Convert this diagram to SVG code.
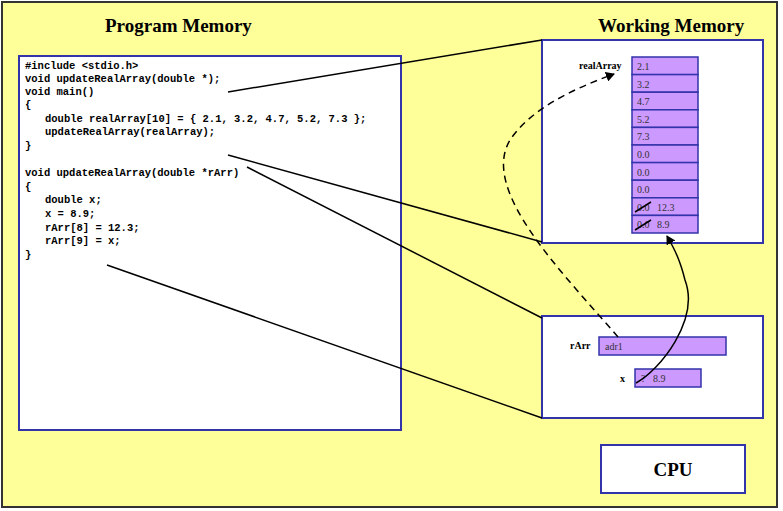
<svg xmlns="http://www.w3.org/2000/svg" width="783" height="511" viewBox="0 0 783 511">
<style>
.box{fill:#fff;stroke:#3333aa;stroke-width:2}
.cell{fill:#cc99ff;stroke:#3333aa;stroke-width:1.5}
.code{font-family:"Liberation Mono",monospace;font-weight:bold;font-size:10.5px}
.t{font-family:"Liberation Serif",serif;font-size:10px;fill:#333}
.lb{font-family:"Liberation Serif",serif;font-size:10px;font-weight:bold}
.h{font-family:"Liberation Serif",serif;font-size:19px;font-weight:bold}
.ln{stroke:#000;stroke-width:1.5;fill:none}
</style>
<defs><marker id="a" markerWidth="10" markerHeight="10" refX="8" refY="5" orient="auto" markerUnits="userSpaceOnUse"><path d="M0,0L9,5L0,10z"/></marker></defs>
<rect x="2" y="2" width="775" height="505" fill="#ffff99" stroke="#333" stroke-width="2"/>
<text class="h" x="105" y="32">Program Memory</text>
<text class="h" x="598" y="32">Working Memory</text>
<g id="program"><rect class="box" x="19" y="56" width="382" height="374"/>
<g class="code">
<text x="25" y="69">#include &lt;stdio.h&gt;</text>
<text x="25" y="82">void updateRealArray(double *);</text>
<text x="25" y="95">void main()</text>
<text x="25" y="108">{</text>
<text x="45" y="122">double realArray[10] = { 2.1, 3.2, 4.7, 5.2, 7.3 };</text>
<text x="45" y="135">updateRealArray(realArray);</text>
<text x="25" y="149">}</text>
<text x="25" y="176">void updateRealArray(double *rArr)</text>
<text x="25" y="190">{</text>
<text x="45" y="203">double x;</text>
<text x="45" y="217">x = 8.9;</text>
<text x="45" y="231">rArr[8] = 12.3;</text>
<text x="45" y="244">rArr[9] = x;</text>
<text x="25" y="258">}</text>
</g></g>
<g id="main-frame"><rect class="box" x="542" y="40" width="221" height="203"/>
<text class="lb" x="579" y="69">realArray</text>
<g class="t">
<rect class="cell" x="632" y="57" width="66" height="17.6"/><text x="637" y="70">2.1</text>
<rect class="cell" x="632" y="74.6" width="66" height="17.6"/><text x="637" y="87.6">3.2</text>
<rect class="cell" x="632" y="92.2" width="66" height="17.6"/><text x="637" y="105.2">4.7</text>
<rect class="cell" x="632" y="109.8" width="66" height="17.6"/><text x="637" y="122.8">5.2</text>
<rect class="cell" x="632" y="127.4" width="66" height="17.6"/><text x="637" y="140.4">7.3</text>
<rect class="cell" x="632" y="145" width="66" height="17.6"/><text x="637" y="158">0.0</text>
<rect class="cell" x="632" y="162.6" width="66" height="17.6"/><text x="637" y="175.6">0.0</text>
<rect class="cell" x="632" y="180.2" width="66" height="17.6"/><text x="637" y="193.2">0.0</text>
<rect class="cell" x="632" y="197.8" width="66" height="17.6"/><text x="637" y="210.8">0.0</text><text x="657" y="210.8">12.3</text>
<rect class="cell" x="632" y="215.4" width="66" height="17.6"/><text x="637" y="228.4">0.0</text><text x="657" y="228.4">8.9</text>
</g>
<line class="ln" x1="635" y1="212" x2="651" y2="202"/>
<line class="ln" x1="635" y1="230" x2="651" y2="220"/>
</g>
<g id="update-frame"><rect class="box" x="542" y="316" width="221" height="102"/>
<text class="lb" x="570" y="349">rArr</text>
<rect class="cell" x="599" y="337" width="127" height="18"/><text class="t" x="605" y="350">adr1</text>
<text class="lb" x="620" y="382">x</text>
<rect class="cell" x="635" y="369" width="66" height="18"/><text class="t" x="641" y="382">?</text><text class="t" x="653" y="382">8.9</text>
</g>
<g id="cpu"><rect class="box" x="601" y="445" width="144" height="48"/><text class="h" x="673" y="476" text-anchor="middle">CPU</text></g>
<g id="connectors">
<line class="ln" x1="228" y1="92" x2="542" y2="40"/>
<line class="ln" x1="228" y1="155" x2="542" y2="242"/>
<line class="ln" x1="247" y1="167" x2="542" y2="318"/>
<line class="ln" x1="107" y1="265" x2="542" y2="418"/>
<path class="ln" stroke-dasharray="7,5" d="M618,337 C560,270 480,190 510,140 C530,110 570,90 614,74" marker-end="url(#a)"/>
<path class="ln" d="M636,383 C660,370 700,320 685,280 C680,260 675,250 667,236" marker-end="url(#a)"/>
</g>
</svg>
